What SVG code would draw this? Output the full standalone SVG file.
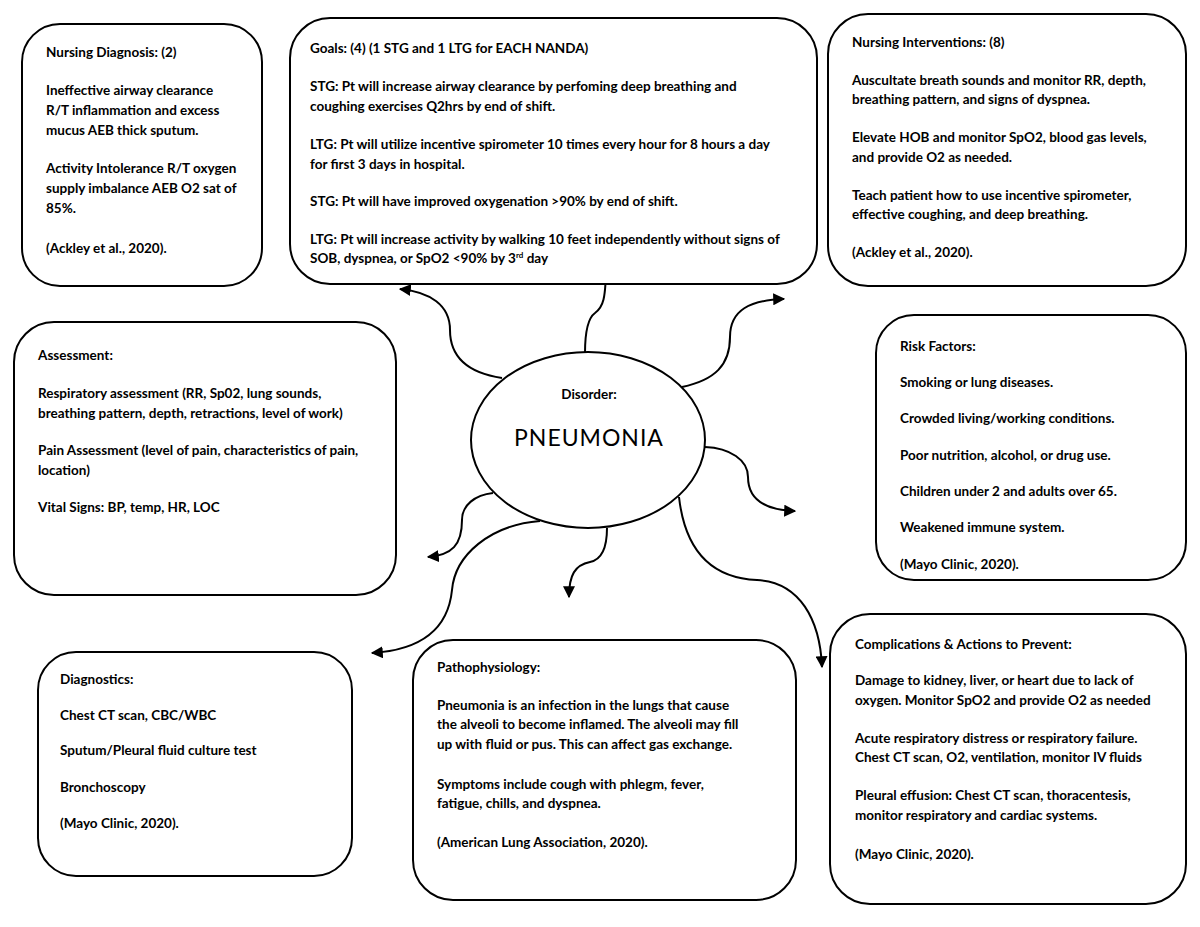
<svg xmlns="http://www.w3.org/2000/svg" width="1200" height="927" viewBox="0 0 1200 927">
<defs>
<style>
.box{fill:#fff;stroke:#000;stroke-width:2}
.t{font-family:Lato,"Liberation Sans",sans-serif;font-weight:bold;font-size:13.5px;fill:#000}
.c{fill:none;stroke:#000;stroke-width:2}
</style>
<marker id="ah" viewBox="0 0 10 10" refX="9" refY="5" markerWidth="6" markerHeight="6" orient="auto" markerUnits="strokeWidth">
<path d="M0,0 L10,5 L0,10 z" fill="#000"/>
</marker>
</defs>
<rect width="1200" height="927" fill="#fff"/>

<g id="connectors">
<path class="c" marker-end="url(#ah)" d="M502,378 C462,372 450,352 450,330 C450,305 430,292 400,289"/>
<path class="c" marker-end="url(#ah)" d="M585,353 C585,330 588,318 595,313 C603,307 606,300 606,262"/>
<path class="c" marker-end="url(#ah)" d="M682,387 C715,380 730,365 730,337 C730,310 750,300 784,299"/>
<path class="c" marker-end="url(#ah)" d="M705,447 C730,448 748,460 748,477 C748,500 765,510 795,511"/>
<path class="c" marker-end="url(#ah)" d="M679,497 C685,550 710,578 757,580 C800,582 820,620 822,667"/>
<path class="c" marker-end="url(#ah)" d="M607,528 C607,550 600,560 590,562 C575,565 569,575 569,597"/>
<path class="c" marker-end="url(#ah)" d="M493,493 C475,495 462,505 462,520 C462,545 452,555 428,557"/>
<path class="c" marker-end="url(#ah)" d="M540,521 C490,525 455,555 452,590 C448,630 420,650 372,653"/>
</g>

<g id="disorder">
<ellipse cx="588" cy="440" rx="117" ry="88" fill="#fff" stroke="#000" stroke-width="2"/>
<text class="t" x="589" y="399" text-anchor="middle">Disorder:</text>
<text x="589" y="446" text-anchor="middle" font-family="Lato,'Liberation Sans',sans-serif" font-size="23" letter-spacing="1">PNEUMONIA</text>
</g>

<g id="nursing-diagnosis">
<rect class="box" x="22" y="24" width="240" height="262" rx="38"/>
<text class="t" x="46" y="57">Nursing Diagnosis: (2)</text>
<text class="t" x="46" y="95">Ineffective airway clearance</text>
<text class="t" x="46" y="115">R/T inflammation and excess</text>
<text class="t" x="46" y="135">mucus AEB thick sputum.</text>
<text class="t" x="46" y="173">Activity Intolerance R/T oxygen</text>
<text class="t" x="46" y="193">supply imbalance AEB O2 sat of</text>
<text class="t" x="46" y="213">85%.</text>
<text class="t" x="46" y="253">(Ackley et al., 2020).</text>
</g>

<g id="goals">
<rect class="box" x="290" y="18" width="527" height="266" rx="40"/>
<text class="t" x="310" y="53">Goals: (4) (1 STG and 1 LTG for EACH NANDA)</text>
<text class="t" x="310" y="91">STG: Pt will increase airway clearance by perfoming deep breathing and</text>
<text class="t" x="310" y="111">coughing exercises Q2hrs by end of shift.</text>
<text class="t" x="310" y="149">LTG: Pt will utilize incentive spirometer 10 times every hour for 8 hours a day</text>
<text class="t" x="310" y="169">for first 3 days in hospital.</text>
<text class="t" x="310" y="206">STG: Pt will have improved oxygenation &gt;90% by end of shift.</text>
<text class="t" x="310" y="244">LTG: Pt will increase activity by walking 10 feet independently without signs of</text>
<text class="t" x="310" y="263">SOB, dyspnea, or SpO2 &lt;90% by 3<tspan font-size="8" dy="-5">rd</tspan><tspan dy="5"> day</tspan></text>
</g>

<g id="nursing-interventions">
<rect class="box" x="828" y="14" width="358" height="272" rx="40"/>
<text class="t" x="852" y="47">Nursing Interventions: (8)</text>
<text class="t" x="852" y="85">Auscultate breath sounds and monitor RR, depth,</text>
<text class="t" x="852" y="104">breathing pattern, and signs of dyspnea.</text>
<text class="t" x="852" y="142">Elevate HOB and monitor SpO2, blood gas levels,</text>
<text class="t" x="852" y="162">and provide O2 as needed.</text>
<text class="t" x="852" y="200">Teach patient how to use incentive spirometer,</text>
<text class="t" x="852" y="219">effective coughing, and deep breathing.</text>
<text class="t" x="852" y="257">(Ackley et al., 2020).</text>
</g>

<g id="assessment">
<rect class="box" x="14" y="322" width="382" height="273" rx="40"/>
<text class="t" x="38" y="360">Assessment:</text>
<text class="t" x="38" y="398">Respiratory assessment (RR, Sp02, lung sounds,</text>
<text class="t" x="38" y="418">breathing pattern, depth, retractions, level of work)</text>
<text class="t" x="38" y="455">Pain Assessment (level of pain, characteristics of pain,</text>
<text class="t" x="38" y="475">location)</text>
<text class="t" x="38" y="512">Vital Signs: BP, temp, HR, LOC</text>
</g>

<g id="risk-factors">
<rect class="box" x="876" y="315" width="310" height="265" rx="38"/>
<text class="t" x="900" y="351">Risk Factors:</text>
<text class="t" x="900" y="387">Smoking or lung diseases.</text>
<text class="t" x="900" y="423">Crowded living/working conditions.</text>
<text class="t" x="900" y="460">Poor nutrition, alcohol, or drug use.</text>
<text class="t" x="900" y="496">Children under 2 and adults over 65.</text>
<text class="t" x="900" y="532">Weakened immune system.</text>
<text class="t" x="900" y="569">(Mayo Clinic, 2020).</text>
</g>

<g id="diagnostics">
<rect class="box" x="38" y="652" width="314" height="224" rx="38"/>
<text class="t" x="60" y="684">Diagnostics:</text>
<text class="t" x="60" y="720">Chest CT scan, CBC/WBC</text>
<text class="t" x="60" y="755">Sputum/Pleural fluid culture test</text>
<text class="t" x="60" y="792">Bronchoscopy</text>
<text class="t" x="60" y="828">(Mayo Clinic, 2020).</text>
</g>

<g id="pathophysiology">
<rect class="box" x="413" y="640" width="383" height="260" rx="40"/>
<text class="t" x="437" y="672">Pathophysiology:</text>
<text class="t" x="437" y="710">Pneumonia is an infection in the lungs that cause</text>
<text class="t" x="437" y="729">the alveoli to become inflamed. The alveoli may fill</text>
<text class="t" x="437" y="749">up with fluid or pus. This can affect gas exchange.</text>
<text class="t" x="437" y="789">Symptoms include cough with phlegm, fever,</text>
<text class="t" x="437" y="808">fatigue, chills, and dyspnea.</text>
<text class="t" x="437" y="847">(American Lung Association, 2020).</text>
</g>

<g id="complications">
<rect class="box" x="830" y="614" width="356" height="290" rx="40"/>
<text class="t" x="855" y="649">Complications &amp; Actions to Prevent:</text>
<text class="t" x="855" y="685">Damage to kidney, liver, or heart due to lack of</text>
<text class="t" x="855" y="705">oxygen. Monitor SpO2 and provide O2 as needed</text>
<text class="t" x="855" y="743">Acute respiratory distress or respiratory failure.</text>
<text class="t" x="855" y="762">Chest CT scan, O2, ventilation, monitor IV fluids</text>
<text class="t" x="855" y="800">Pleural effusion: Chest CT scan, thoracentesis,</text>
<text class="t" x="855" y="820">monitor respiratory and cardiac systems.</text>
<text class="t" x="855" y="859">(Mayo Clinic, 2020).</text>
</g>
</svg>
